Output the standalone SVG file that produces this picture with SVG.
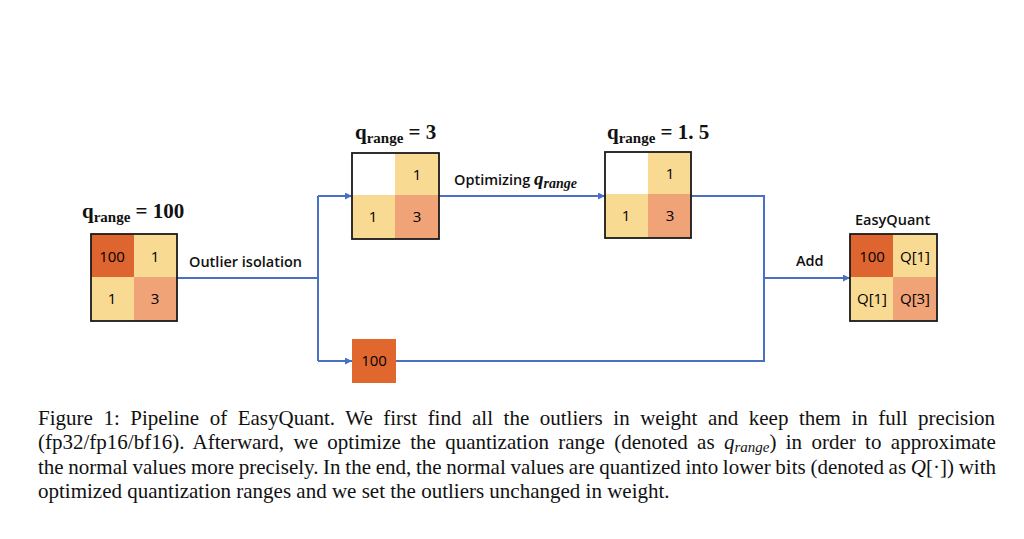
<svg xmlns="http://www.w3.org/2000/svg" width="1024" height="539" viewBox="0 0 1024 539">
<defs>
<marker id="arr" viewBox="0 0 10 10" refX="10" refY="5" markerWidth="7" markerHeight="7" markerUnits="userSpaceOnUse" orient="auto">
<path d="M0,0 L10,5 L0,10 z" fill="#4A70C4"/>
</marker>
<style>
.ln{fill:none;stroke:#4A70C4;stroke-width:2}
.dk{fill:#DE6530}
.yl{fill:#F9DA93}
.sl{fill:#F1A378}
.wt{fill:#FFFFFF}
.bd{fill:none;stroke:#1a1a1a;stroke-width:1.8}
.cell{font-family:"Open Sans","Liberation Sans",sans-serif;font-size:15px;font-weight:500;fill:#000;text-anchor:middle}
.lbl{font-family:"Open Sans","Liberation Sans",sans-serif;font-size:14.5px;font-weight:600;fill:#111}
.mth{font-family:"Liberation Serif","DejaVu Serif",serif;font-weight:bold;fill:#111}
.cap{font-family:"Liberation Serif","Times New Roman",serif;font-size:21px;fill:#111}
</style>
</defs>
<rect width="1024" height="539" fill="#FFFFFF"/>

<g id="connectors">
<path class="ln" d="M177,278 H318"/>
<path class="ln" d="M318,196 V361"/>
<path class="ln" d="M318,196 H352" marker-end="url(#arr)"/>
<path class="ln" d="M318,361 H352" marker-end="url(#arr)"/>
<path class="ln" d="M439,196 H605" marker-end="url(#arr)"/>
<path class="ln" d="M691,196 H764 V361 H396"/>
<path class="ln" d="M764,278 H850" marker-end="url(#arr)"/>
</g>

<g id="node-input">
<text class="mth" x="82" y="218" font-size="21">q<tspan font-size="15" dy="4">range</tspan><tspan dy="-4"> = 100</tspan></text>
<rect class="dk" x="91" y="234" width="43" height="43"/>
<rect class="yl" x="134" y="234" width="43" height="43"/>
<rect class="yl" x="91" y="277" width="43" height="44"/>
<rect class="sl" x="134" y="277" width="43" height="44"/>
<rect class="bd" x="91" y="234" width="86" height="87"/>
<text class="cell" x="112" y="262">100</text>
<text class="cell" x="155" y="262">1</text>
<text class="cell" x="112" y="304">1</text>
<text class="cell" x="155" y="304">3</text>
</g>

<g id="label-outlier">
<text class="lbl" x="189" y="267">Outlier isolation</text>
</g>

<g id="node-normal1">
<text class="mth" x="355" y="139" font-size="21">q<tspan font-size="15" dy="4">range</tspan><tspan dy="-4"> = 3</tspan></text>
<rect class="wt" x="352" y="153" width="43" height="42"/>
<rect class="yl" x="395" y="153" width="44" height="42"/>
<rect class="yl" x="352" y="195" width="43" height="44"/>
<rect class="sl" x="395" y="195" width="44" height="44"/>
<rect class="bd" x="352" y="153" width="87" height="86"/>
<text class="cell" x="417" y="180">1</text>
<text class="cell" x="373" y="222">1</text>
<text class="cell" x="417" y="222">3</text>
</g>

<g id="label-optimizing">
<text class="lbl" x="454" y="185">Optimizing <tspan font-family="Liberation Serif, serif" font-style="italic" font-weight="bold" font-size="19">q</tspan><tspan font-family="Liberation Serif, serif" font-style="italic" font-weight="bold" font-size="14" dy="3">range</tspan></text>
</g>

<g id="node-normal2">
<text class="mth" x="607" y="139" font-size="21">q<tspan font-size="15" dy="4">range</tspan><tspan dy="-4"> = 1. 5</tspan></text>
<rect class="wt" x="605" y="152" width="43" height="42"/>
<rect class="yl" x="648" y="152" width="43" height="42"/>
<rect class="yl" x="605" y="194" width="43" height="44"/>
<rect class="sl" x="648" y="194" width="43" height="44"/>
<rect class="bd" x="605" y="152" width="86" height="86"/>
<text class="cell" x="670" y="179">1</text>
<text class="cell" x="626" y="221">1</text>
<text class="cell" x="670" y="221">3</text>
</g>

<g id="node-outlier">
<rect x="352" y="339" width="44" height="44" fill="#E0682F"/>
<text class="cell" x="374" y="366">100</text>
</g>

<g id="label-add">
<text class="lbl" x="796" y="266">Add</text>
</g>

<g id="node-easyquant">
<text class="lbl" x="855" y="225">EasyQuant</text>
<rect class="dk" x="850" y="234" width="43" height="43"/>
<rect class="yl" x="893" y="234" width="44" height="43"/>
<rect class="yl" x="850" y="277" width="43" height="44"/>
<rect class="sl" x="893" y="277" width="44" height="44"/>
<rect class="bd" x="850" y="234" width="87" height="87"/>
<text class="cell" x="872" y="262">100</text>
<text class="cell" x="915" y="262">Q[1]</text>
<text class="cell" x="872" y="304">Q[1]</text>
<text class="cell" x="915" y="304">Q[3]</text>
</g>

<g id="caption">
<text class="cap" x="38" y="425" word-spacing="5.3">Figure 1: Pipeline of EasyQuant. We first find all the outliers in weight and keep them in full precision</text>
<text class="cap" x="38" y="449" word-spacing="4.1">(fp32/fp16/bf16). Afterward, we optimize the quantization range (denoted as <tspan font-style="italic">q</tspan><tspan font-style="italic" font-size="15" dy="3">range</tspan><tspan dy="-3">) in order to approximate</tspan></text>
<text class="cap" x="38" y="474" word-spacing="-0.55">the normal values more precisely. In the end, the normal values are quantized into lower bits (denoted as <tspan font-style="italic">Q</tspan>[·]) with</text>
<text class="cap" x="38" y="498">optimized quantization ranges and we set the outliers unchanged in weight.</text>
</g>
</svg>
